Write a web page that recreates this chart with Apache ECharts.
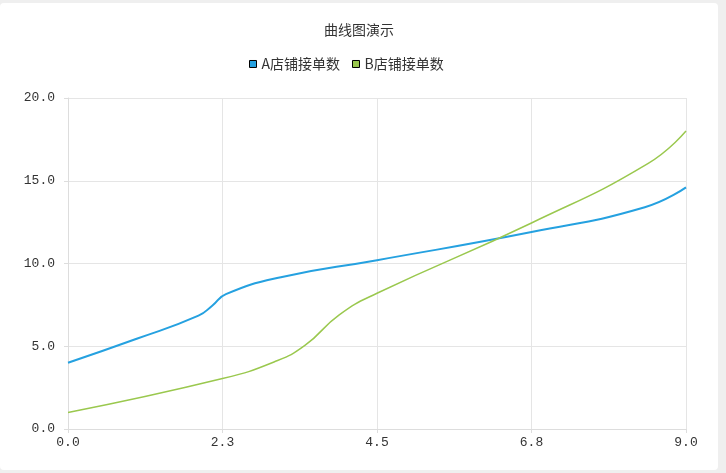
<!DOCTYPE html>
<html>
<head>
<meta charset="utf-8">
<script src="https://cdn.jsdelivr.net/npm/echarts@6/dist/echarts.min.js"></script>
<style>
  html, body { margin: 0; padding: 0; background: #efefef; width: 726px; height: 473px; overflow: hidden; }
  #card { position: absolute; left: 0; top: 3px; width: 718px; height: 467px; background: #fff; border-radius: 4px; }
  #chart { width: 718px; height: 467px; }
</style>
</head>
<body>
<div id="card"><div id="chart"></div></div>
<script>
const titleText = '曲线图演示';
const seriesNames = ['A店铺接单数', 'B店铺接单数'];
const xTicks = { min: 0, max: 9, interval: 2.25 };
const yTicks = { min: 0, max: 20, interval: 5 };
const shopA = [
  [0, 4.0], [1.0, 5.45], [1.9, 6.85], [2.1, 7.45], [2.3, 8.15], [3.1, 9.17],
  [4.5, 10.2], [6.75, 11.9], [8.4, 13.4], [9.0, 14.6]
];
const shopB = [
  [0, 1.0], [2.25, 3.05], [3.0, 4.05], [3.45, 5.05], [3.95, 6.9], [4.5, 8.2],
  [6.75, 12.45], [8.45, 16.05], [9, 18]
];
const colors = ['#25a1e0', '#9ac84e'];

const mono = 'Liberation Mono, DejaVu Sans Mono, monospace';
const cjk = 'Noto Sans CJK SC, sans-serif';
const chart = echarts.init(document.getElementById('chart'));
const fmt = v => v.toFixed(1);
chart.setOption({
  animation: false,
  color: colors,
  title: {
    text: titleText, left: 'center', top: 20, padding: 0,
    textStyle: { fontSize: 14, fontWeight: 'normal', color: '#333', fontFamily: cjk }
  },
  legend: {
    data: seriesNames, top: 54, left: 249, padding: 0, itemGap: 12,
    icon: 'rect', itemWidth: 7, itemHeight: 7,
    itemStyle: { borderColor: '#000', borderWidth: 1 },
    textStyle: { fontSize: 14, color: '#333', fontFamily: cjk }
  },
  grid: { left: 68, top: 95, right: 32, bottom: 41, containLabel: false },
  xAxis: {
    type: 'value', min: xTicks.min, max: xTicks.max, interval: xTicks.interval,
    axisLine: { show: true, lineStyle: { color: '#dddddd' } },
    axisTick: { show: true, length: 4, lineStyle: { color: '#dddddd' } },
    splitLine: { show: true, lineStyle: { color: '#e5e5e5' } },
    axisLabel: { formatter: fmt, margin: 7, fontSize: 13, color: '#333', fontFamily: mono }
  },
  yAxis: {
    type: 'value', min: yTicks.min, max: yTicks.max, interval: yTicks.interval,
    axisLine: { show: true, lineStyle: { color: '#dddddd' } },
    axisTick: { show: true, length: 4, lineStyle: { color: '#dddddd' } },
    splitLine: { show: true, lineStyle: { color: '#e5e5e5' } },
    axisLabel: { formatter: fmt, margin: 13, fontSize: 13, color: '#333', fontFamily: mono }
  },
  series: [
    { name: seriesNames[0], type: 'line', smooth: true, showSymbol: false, data: shopA,
      lineStyle: { width: 2, color: colors[0] }, itemStyle: { color: colors[0] } },
    { name: seriesNames[1], type: 'line', smooth: true, showSymbol: false, data: shopB,
      lineStyle: { width: 1.5, color: colors[1] }, itemStyle: { color: colors[1] } }
  ]
});
</script>
</body>
</html>
